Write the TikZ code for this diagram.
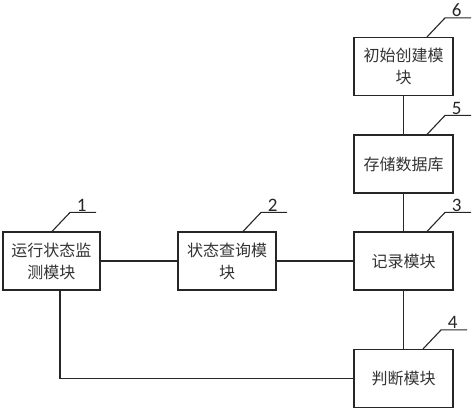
\documentclass[tikz,border=0pt]{standalone}
\usepackage{fontspec}
\newfontfamily\cjk{Noto Sans CJK SC}
\newfontfamily\numfont{Carlito}
\usetikzlibrary{calc}
\tikzset{
	modbox/.style={draw=black!85, line width=1.1pt, minimum height=58pt, inner sep=0pt, align=center, font=\cjk\fontsize{16}{22}\selectfont, text=black!80},
	tagline/.style={draw=black!85, line width=1.1pt},
	numtext/.style={font=\numfont\fontsize{19}{19}\selectfont, text=black!85, inner sep=0.5pt},
	link/.style={draw=black!85, line width=1.1pt}
}
\def\numtag(#1)(#2)#3{\draw[tagline] ($(#1.north)+(#2,0)$) -- ++(18,-19) -- ++(26,0) node[pos=0.45, above, numtext] {#3};}

\begin{document}
\begin{tikzpicture}[x=1pt, y=-1pt]
			\useasboundingbox (0,0) rectangle (474,411);
			%%%%% START %%%%%
			\node[modbox, minimum width=97pt] (mon) at (51.5, 261) {运行状态监\\测模块};
			\node[modbox, minimum width=98pt] (query) at (227, 261) {状态查询模\\块};
			\node[modbox, minimum width=99pt] (record) at (403.5, 261) {记录模块};
			\node[modbox, minimum width=99pt] (judge) at (403.5, 378.5) {判断模块};
			\node[modbox, minimum width=99pt] (store) at (403.5, 164) {存储数据库};
			\node[modbox, minimum width=99pt] (init) at (403.5, 66.5) {初始创建模\\块};
			
			\coordinate (monfoot) at ($(mon.south)+(8.5,0)$);
			
			\draw[link] (mon) -- (query);
			\draw[link] (query) -- (record);
			\draw[link] (init) -- (store);
			\draw[link] (store) -- (record);
			\draw[link] (record) -- (judge);
			\draw[link] (monfoot) |- (judge.west);
			
			\numtag(mon)(0.5){1}
			\numtag(query)(16){2}
			\numtag(record)(23.5){3}
			\numtag(judge)(19.5){4}
			\numtag(store)(23.5){5}
			\numtag(init)(23.5){6}
			%%%%% END %%%%%
		\end{tikzpicture}
\end{document}
